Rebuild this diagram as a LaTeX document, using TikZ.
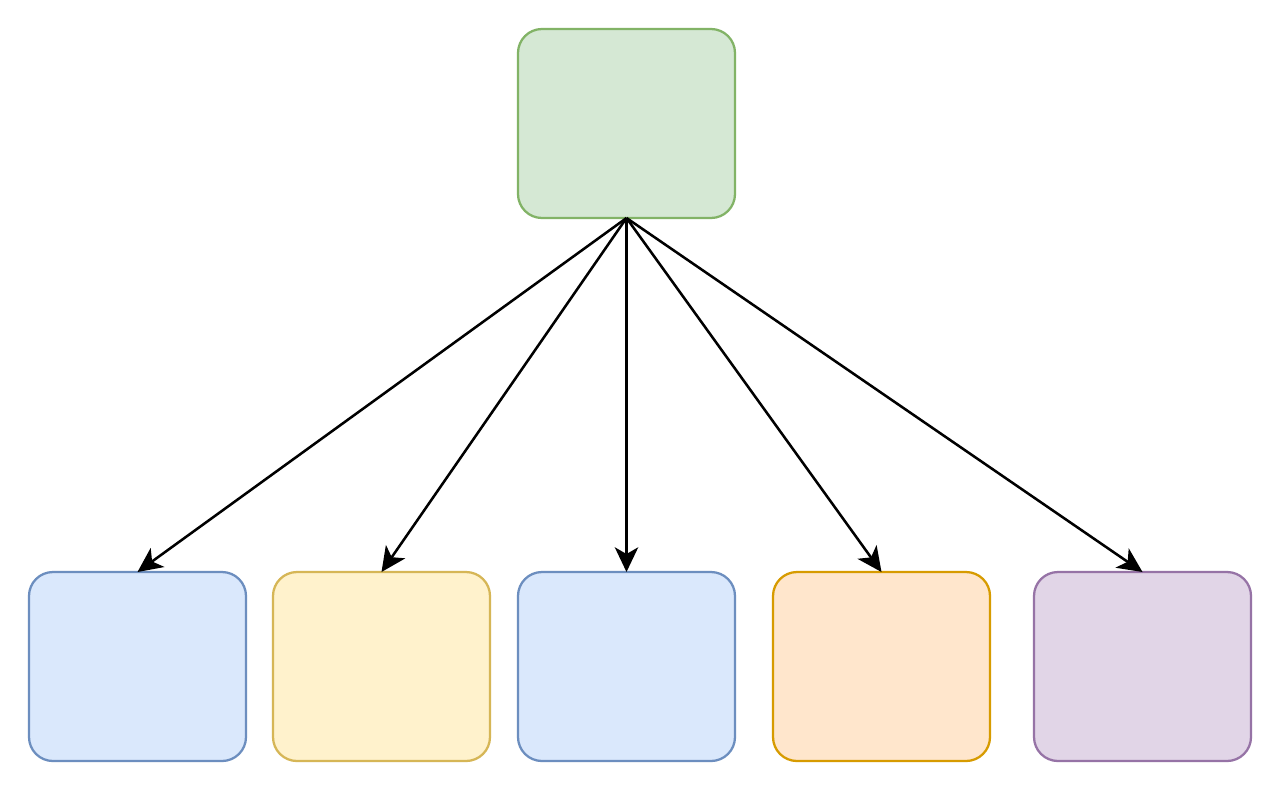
\documentclass[tikz,border=0pt]{standalone}
\usetikzlibrary{arrows.meta}
\definecolor{gfill}{HTML}{D5E8D4}\definecolor{gdraw}{HTML}{82B366}
\definecolor{bfill}{HTML}{DAE8FC}\definecolor{bdraw}{HTML}{6C8EBF}
\definecolor{yfill}{HTML}{FFF2CC}\definecolor{ydraw}{HTML}{D6B656}
\definecolor{ofill}{HTML}{FFE6CC}\definecolor{odraw}{HTML}{D79B00}
\definecolor{pfill}{HTML}{E1D5E7}\definecolor{pdraw}{HTML}{9673A6}
\tikzset{
  box/.style={rectangle, rounded corners=18pt, minimum width=162.75pt, minimum height=141.75pt, line width=1.7pt, inner sep=0pt, outer sep=0pt},
  conn/.style={line width=1.9pt, -{Stealth[length=18.5pt, width=17.5pt, inset=5pt]}}
}
\begin{document}
\begin{tikzpicture}[x=0.75pt, y=-0.75pt]
\useasboundingbox[fill=white] (0,0) rectangle (1280,790);
\node[box, fill=gfill, draw=gdraw] (top) at (626.5,123.5) {};
\node[box, fill=bfill, draw=bdraw] (b1) at (137.5,666.5) {};
\node[box, fill=yfill, draw=ydraw] (b2) at (381.5,666.5) {};
\node[box, fill=bfill, draw=bdraw] (b3) at (626.5,666.5) {};
\node[box, fill=ofill, draw=odraw] (b4) at (881.5,666.5) {};
\node[box, fill=pfill, draw=pdraw] (b5) at (1142.5,666.5) {};
\foreach \n in {b1,b2,b3,b4,b5} \draw[conn] (top.south) -- (\n.north);
\end{tikzpicture}
\end{document}
